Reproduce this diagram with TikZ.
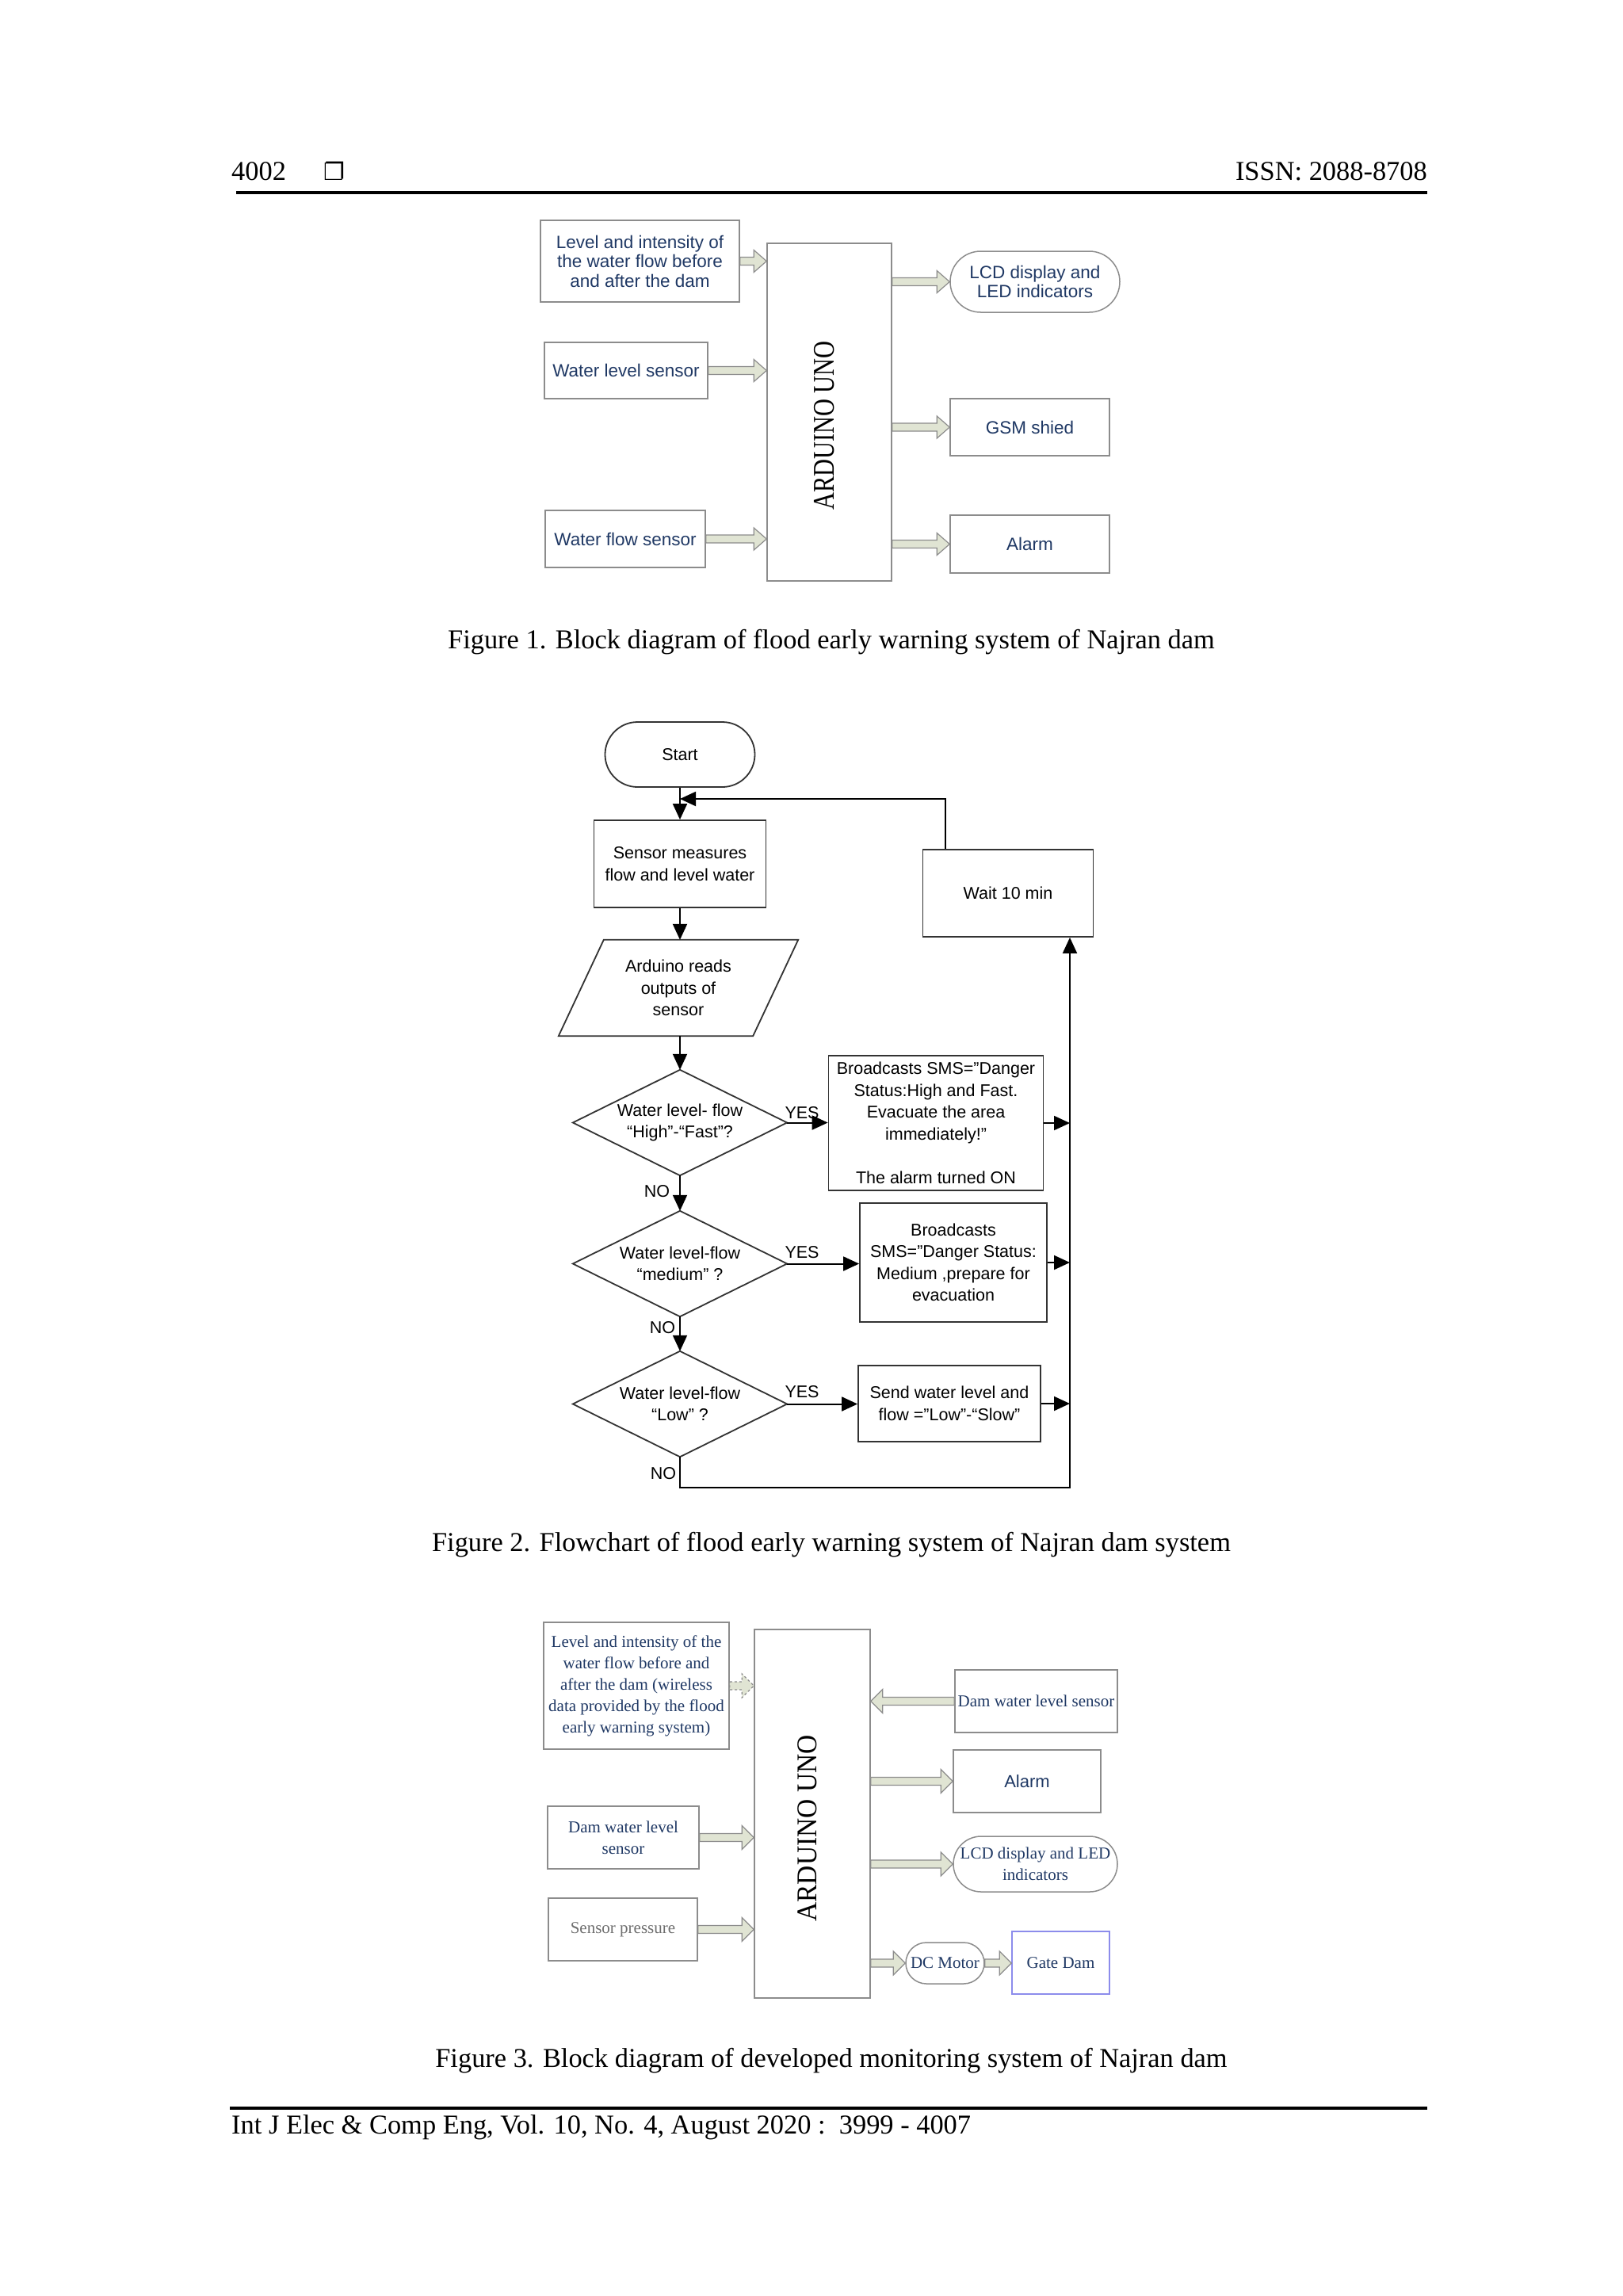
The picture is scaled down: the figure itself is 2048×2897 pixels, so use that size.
\documentclass[tikz,border=0pt]{standalone}
\usepackage{fontspec}
\setmainfont{Liberation Serif}
\newfontfamily\arialf{Liberation Sans}
\newfontfamily\djv{DejaVu Sans}
\usetikzlibrary{arrows.meta,shapes.geometric,shapes.misc,calc}
\definecolor{navy}{HTML}{1F3864}
\definecolor{bfill}{HTML}{E0E4D3}
\definecolor{bline}{HTML}{8C8C8C}
\definecolor{gatec}{HTML}{8C8CEB}
\definecolor{greytext}{HTML}{6E6E6E}
\def\bsh{5pt}\def\bhh{14pt}\def\bhl{16pt}
\newcommand\blockarr[3][]{%
 \path[barrow,#1] let \p1=(#2), \p2=(#3), \n1={ifthenelse(\x2>\x1,1,-1)} in
 (\x1,{\y1+\bsh}) -- ({\x2-\n1*\bhl},{\y1+\bsh}) -- ({\x2-\n1*\bhl},{\y1+\bhh}) -- (\x2,\y1)
 -- ({\x2-\n1*\bhl},{\y1-\bhh}) -- ({\x2-\n1*\bhl},{\y1-\bsh}) -- (\x1,{\y1-\bsh}) -- cycle;}
\begin{document}
\begin{tikzpicture}[x=1pt,y=-1pt,
  barrow/.style={fill=bfill, draw=bline, line width=1.2pt, line join=miter},
  bbox/.style={draw=bline, line width=1.5pt, fill=white, text=navy, align=center, inner sep=0pt,
     font=\arialf\fontsize{22.5}{24.5}\selectfont},
  tbox/.style={draw=bline, line width=1.5pt, fill=white, text=navy, align=center, inner sep=0pt,
     font=\fontsize{21}{27}\selectfont},
  fcbox/.style={draw=black!80, line width=1.8pt, align=center, inner sep=0pt,
     font=\arialf\fontsize{21.5}{27.5}\selectfont},
  ftext/.style={align=center, inner sep=0pt, font=\arialf\fontsize{21.5}{27.5}\selectfont},
  dshape/.style={draw=black!80, line width=1.8pt, line join=miter},
  flow/.style={line width=2pt, -{Triangle[length=20pt,width=18pt]}},
  lbl/.style={inner sep=0pt, font=\arialf\fontsize{21.5}{25}\selectfont},
  body/.style={inner sep=0pt, font=\fontsize{34.4}{41}\selectfont},
  ardtext/.style={rotate=90, inner sep=0pt}
]
\useasboundingbox (0,0) rectangle (2048,2897);
\fill[white] (0,0) rectangle (2048,2897);

% ---------- header ----------
\node[body, anchor=base west] (pg) at (292,227) {4002};
\node[inner sep=0pt, anchor=base west, font=\djv\fontsize{30}{30}\selectfont] (sq) at (408,227) {❐};
\node[body, anchor=base east] (issn) at (1801,227) {ISSN: 2088-8708};
\draw[line width=3.5pt] (298,243) -- (1801,243);

% ---------- Figure 1 ----------
\node[bbox, minimum width=251pt, minimum height=103pt] (lvl1) at (807.5,329.5)
  {Level and intensity of\\the water flow before\\and after the dam};
\node[bbox, minimum width=206pt, minimum height=71pt] (wls1) at (790,467.5) {Water level sensor};
\node[bbox, minimum width=202pt, minimum height=72pt] (wfs1) at (789,680) {Water flow sensor};
\node[draw=bline, line width=1.5pt, minimum width=157pt, minimum height=426pt, inner sep=0pt] (ard1) at (1046.5,520) {};
\node[ardtext, font=\fontsize{38}{38}\selectfont] (ardt1) at (1040,537) {\scalebox{0.8}[1]{ARDUINO UNO}};
\node[bbox, rounded rectangle, minimum width=214pt, minimum height=77pt] (lcd1) at (1306,355.5) {LCD display and\\LED indicators};
\node[bbox, minimum width=201pt, minimum height=72pt] (gsm1) at (1299.5,539) {GSM shied};
\node[bbox, minimum width=201pt, minimum height=73pt] (alm1) at (1299.5,686.5) {Alarm};

\blockarr{lvl1.east}{ard1.west |- lvl1.east}
\blockarr{wls1.east}{ard1.west |- wls1.east}
\blockarr{wfs1.east}{ard1.west |- wfs1.east}
\blockarr{ard1.east |- lcd1.west}{lcd1.west}
\blockarr{ard1.east |- gsm1.west}{gsm1.west}
\blockarr{ard1.east |- alm1.west}{alm1.west}

\node[body, anchor=base] (cap1) at (1049,818) {Figure 1. Block diagram of flood early warning system of Najran dam};

% ---------- Figure 2 ----------
\node[fcbox, rounded rectangle, minimum width=189pt, minimum height=82pt] (start) at (858,952) {Start};
\node[fcbox, minimum width=217pt, minimum height=110pt] (sensor) at (858,1090) {Sensor measures\\flow and level water};
\node[fcbox, minimum width=215pt, minimum height=110pt] (wait) at (1272,1127) {Wait 10 min};
\node[ftext, minimum width=302pt, minimum height=121pt] (read) at (856,1246.5) {Arduino reads\\outputs of\\sensor};
\draw[dshape] (read.south west) -- ($(read.north west)+(57,0)$) -- (read.north east) -- ($(read.south east)-(57,0)$) -- cycle;

\node[ftext, minimum width=270pt, minimum height=133pt] (d1) at (858,1416.5) {Water level- flow\\“High”-“Fast”?};
\node[ftext, minimum width=270pt, minimum height=133pt] (d2) at (858,1594.5) {Water level-flow\\“medium” ?};
\node[ftext, minimum width=270pt, minimum height=133pt] (d3) at (858,1771.5) {Water level-flow\\“Low” ?};
\foreach \d in {d1,d2,d3}
  \draw[dshape] (\d.north) -- (\d.east) -- (\d.south) -- (\d.west) -- cycle;

\node[fcbox, minimum width=271pt, minimum height=170pt] (box1) at (1181,1417)
  {Broadcasts SMS=”Danger\\Status:High and Fast.\\Evacuate the area\\immediately!”\\[27.5pt]The alarm turned ON};
\node[fcbox, minimum width=236pt, minimum height=150pt] (box2) at (1203,1593)
  {Broadcasts\\SMS=”Danger Status:\\Medium ,prepare for\\evacuation};
\node[fcbox, minimum width=230pt, minimum height=96pt] (box3) at (1198,1771)
  {Send water level and\\flow =”Low”-“Slow”};

\coordinate (vl) at (1350,1877);
\coordinate (jn) at (858,1008);
\coordinate (wt) at ($(wait.north west)+(29,0)$);

\draw[flow] (start.south) -- (sensor.north);
\draw[flow] (sensor.south) -- (sensor.south |- read.north);
\draw[flow] (sensor.south |- read.south) -- (d1.north);
\draw[flow] (d1.east) -- (d1.east -| box1.west);
\draw[flow] (d1.south) -- (d2.north);
\draw[flow] (d2.east) -- (d2.east -| box2.west);
\draw[flow] (d2.south) -- (d3.north);
\draw[flow] (d3.east) -- (d3.east -| box3.west);
\draw[flow] (box1.east) -- (box1.east -| vl);
\draw[flow] (box2.east) -- (box2.east -| vl);
\draw[flow] (box3.east) -- (box3.east -| vl);
\draw[flow] (d3.south) |- (vl) -- (vl |- wait.south);
\draw[flow] (wt) -- (wt |- jn) -- (jn);

\node[lbl] (yes1) at (1012,1404) {YES};
\node[lbl] (yes2) at (1012,1580) {YES};
\node[lbl] (yes3) at (1012,1756) {YES};
\node[lbl] (no1) at (829,1503) {NO};
\node[lbl] (no2) at (836,1675) {NO};
\node[lbl] (no3) at (837,1859) {NO};

\node[body, anchor=base] (cap2) at (1049,1957) {Figure 2. Flowchart of flood early warning system of Najran dam system};

% ---------- Figure 3 ----------
\def\bhh{15pt}\def\bhl{15pt}
\node[tbox, minimum width=234pt, minimum height=160pt] (lvl3) at (803,2127)
  {Level and intensity of the\\water flow before and\\after the dam (wireless\\data provided by the flood\\early warning system)};
\node[tbox, minimum width=191pt, minimum height=79pt] (dwl3) at (786.5,2318.5) {Dam water level\\sensor};
\node[tbox, text=greytext, minimum width=188pt, minimum height=79pt] (sp3) at (786,2434.5) {Sensor pressure};
\node[draw=bline, line width=1.5pt, minimum width=146pt, minimum height=465pt, inner sep=0pt] (ard3) at (1025,2288.5) {};
\node[ardtext, font=\fontsize{36}{36}\selectfont] (ardt3) at (1019,2307) {\scalebox{0.93}[1]{ARDUINO UNO}};
\node[tbox, minimum width=205pt, minimum height=79pt] (dwr3) at (1307.5,2146.5) {Dam water level sensor};
\node[bbox, font=\arialf\fontsize{22}{24.5}\selectfont, minimum width=186pt, minimum height=79pt] (alm3) at (1296,2247.5) {Alarm};
\node[tbox, rounded rectangle, minimum width=207pt, minimum height=70pt] (lcd3) at (1306.5,2352) {LCD display and LED\\indicators};
\node[tbox, rounded rectangle, minimum width=99pt, minimum height=52pt] (dcm3) at (1192.5,2477) {DC Motor};
\node[tbox, draw=gatec, minimum width=123pt, minimum height=79pt] (gate3) at (1338.5,2476.5) {Gate Dam};

\blockarr[dashed]{lvl3.east}{ard3.west |- lvl3.east}
\blockarr{dwl3.east}{ard3.west |- dwl3.east}
\blockarr{sp3.east}{ard3.west |- sp3.east}
\blockarr{dwr3.west}{ard3.east |- dwr3.west}
\blockarr{ard3.east |- alm3.west}{alm3.west}
\blockarr{ard3.east |- lcd3.west}{lcd3.west}
\blockarr{ard3.east |- dcm3.west}{dcm3.west}
\blockarr{dcm3.east}{gate3.west}

\node[body, anchor=base] (cap3) at (1049,2608) {Figure 3. Block diagram of developed monitoring system of Najran dam};

% ---------- footer ----------
\draw[line width=3.5pt] (290,2660) -- (1801,2660);
\node[body, anchor=base west] (foot) at (292,2692) {Int J Elec \& Comp Eng, Vol. 10, No. 4, August 2020 :\ \ 3999 - 4007};
\end{tikzpicture}
\end{document}
